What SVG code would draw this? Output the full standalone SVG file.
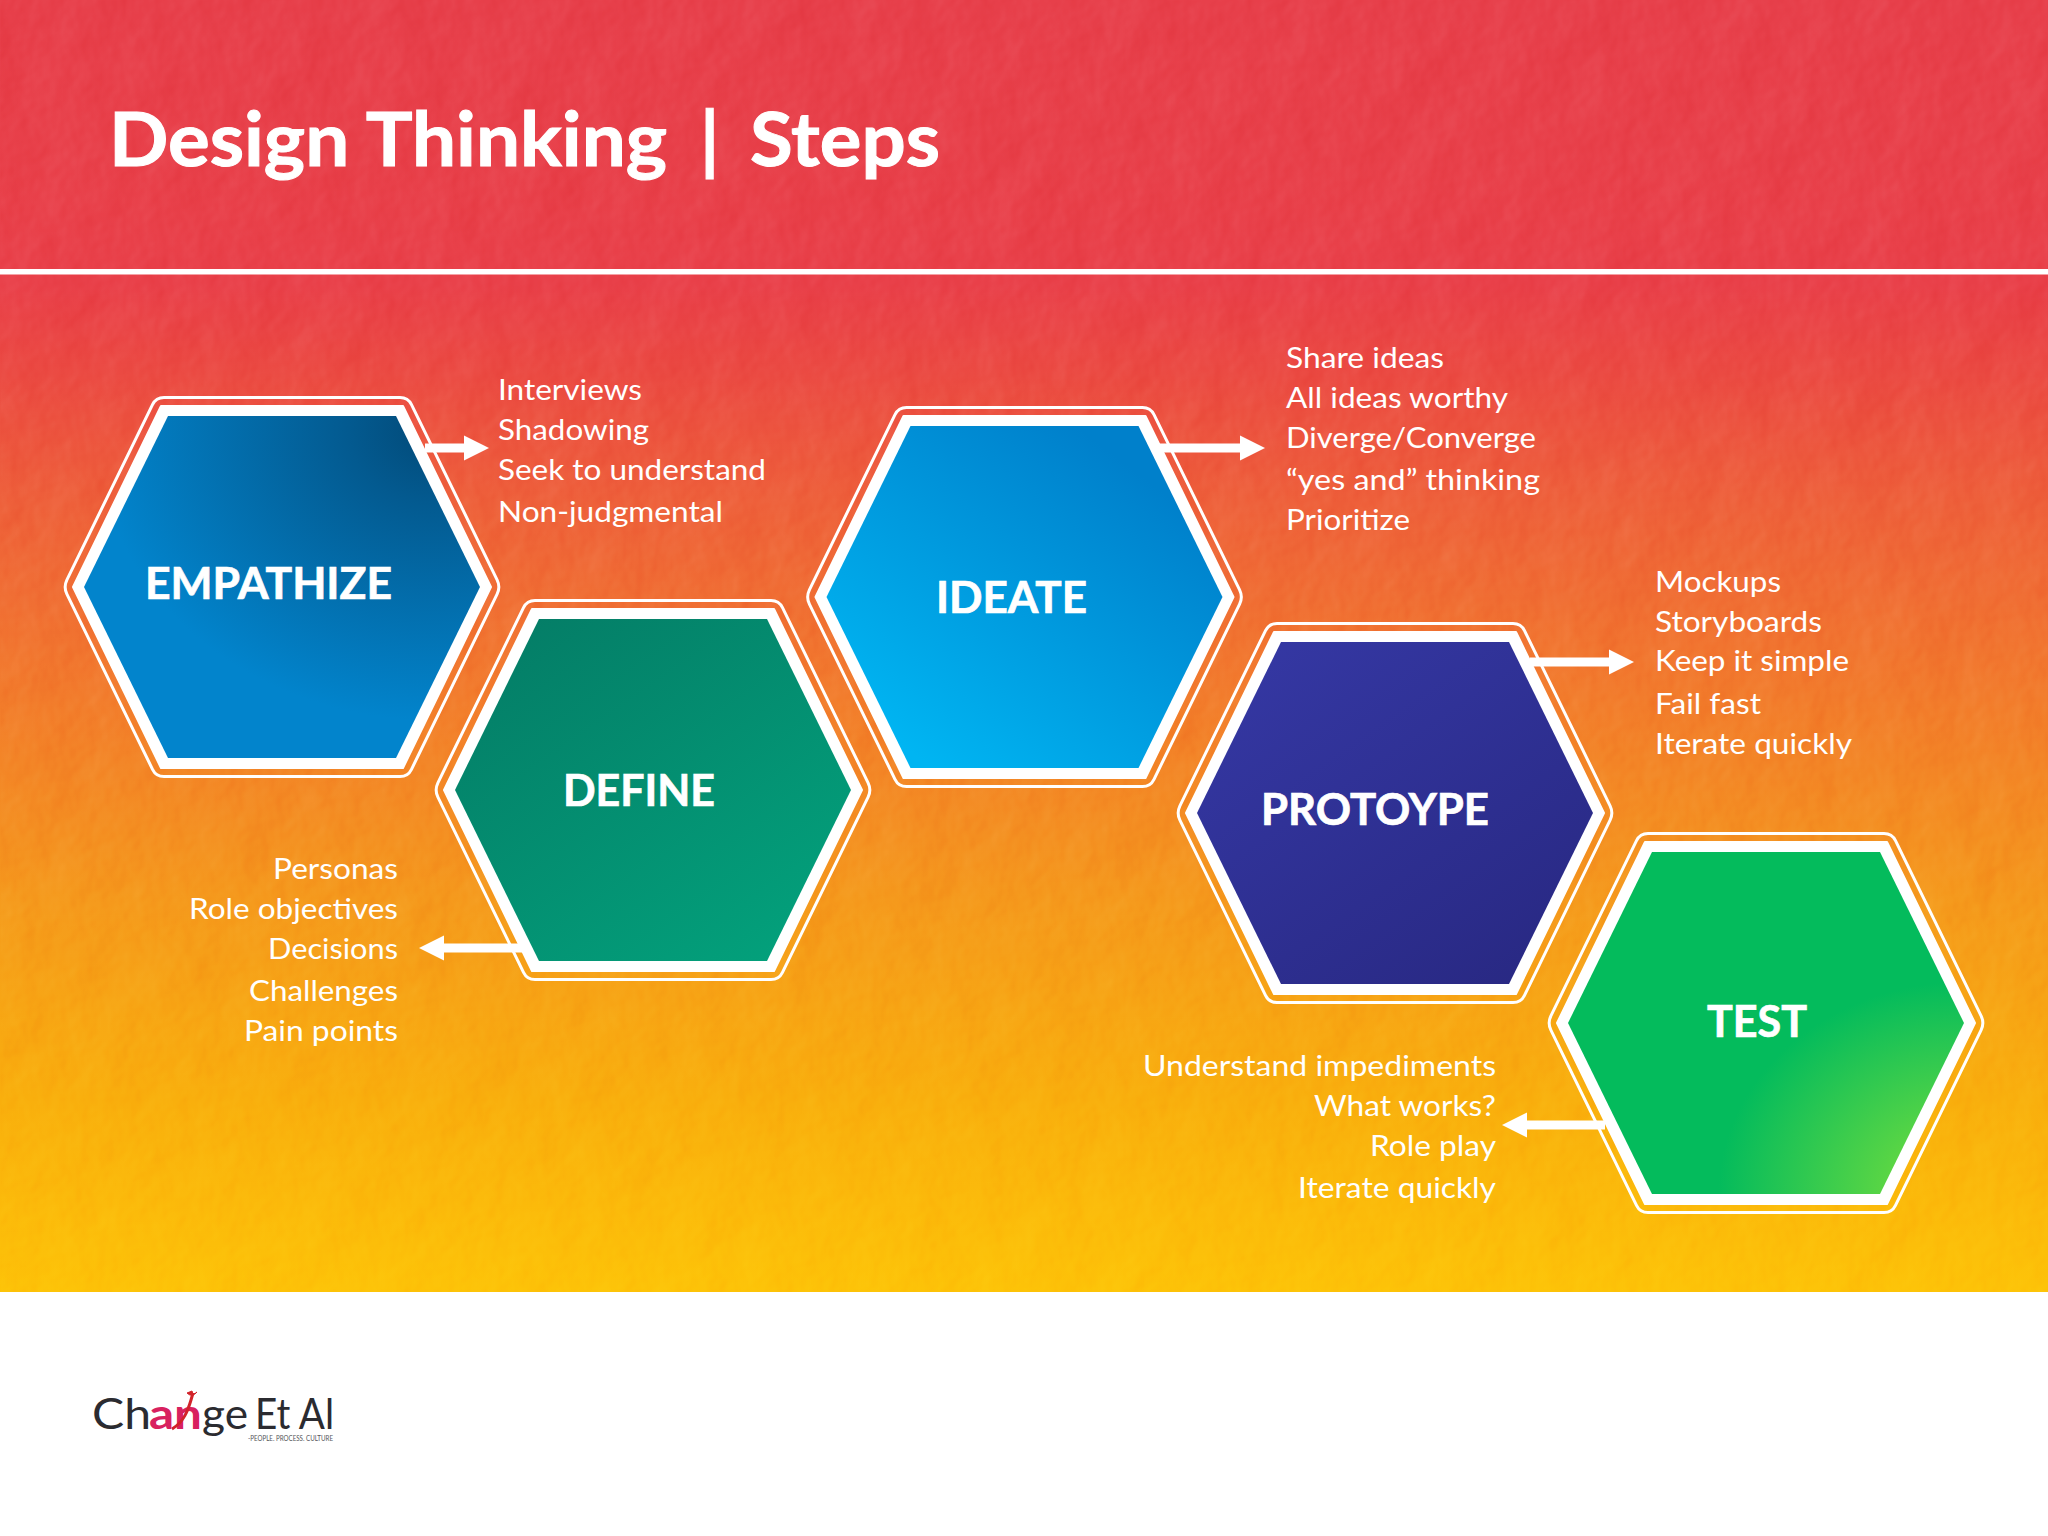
<svg xmlns="http://www.w3.org/2000/svg" width="2048" height="1536" viewBox="0 0 2048 1536">
<defs>
<style>
text{font-family:"Lato","Liberation Sans",sans-serif;fill:#fff}
.t{font-size:74px;font-weight:700;stroke:#fff;stroke-width:1}
.l{font-size:44px;font-weight:700;stroke:#fff;stroke-width:.7}
.b{font-size:28px;font-weight:400}
.thin{fill:none;stroke:#fff;stroke-width:3}
.band{fill:#fff;stroke:#fff;stroke-width:2;stroke-linejoin:round}
.arrow{stroke:#fff;stroke-width:9;fill:none;marker-end:url(#head)}
.logo{font-size:42px;font-weight:400;fill:#2b2b30}
</style>
<linearGradient id="bg" gradientUnits="userSpaceOnUse" x1="0" y1="0" x2="0" y2="1292">
<stop offset="0" stop-color="#E7404B"/><stop offset=".22" stop-color="#E9414A"/><stop offset=".29" stop-color="#EB4B43"/><stop offset=".39" stop-color="#EE613B"/><stop offset=".54" stop-color="#F27C2C"/><stop offset=".7" stop-color="#F59A1C"/><stop offset=".85" stop-color="#F9AF0D"/><stop offset="1" stop-color="#FDC308"/>
</linearGradient>
<filter id="paper" x="0" y="0" width="100%" height="100%" color-interpolation-filters="sRGB">
<feTurbulence type="fractalNoise" baseFrequency="0.016 0.015" numOctaves="4" seed="11" result="n"/>
<feDiffuseLighting in="n" surfaceScale="1.3" diffuseConstant="1" lighting-color="#fff" result="lit"><feDistantLight azimuth="200" elevation="30"/></feDiffuseLighting>
<feBlend in="lit" in2="SourceGraphic" mode="soft-light" result="b"/>
<feComposite in="b" in2="SourceGraphic" operator="in"/>
</filter>
<marker id="head" markerUnits="userSpaceOnUse" markerWidth="26" markerHeight="26" refX="0" refY="13" orient="auto"><path d="M0,0.5 L25,13 L0,25.5 Z" fill="#fff"/></marker>
<radialGradient id="g1" cx=".88" cy=".04" r=".85"><stop offset="0" stop-color="#024A78"/><stop offset=".25" stop-color="#035A90"/><stop offset="1" stop-color="#0284CC"/></radialGradient>
<linearGradient id="g2" x1=".1" y1="0" x2=".9" y2="1"><stop offset="0" stop-color="#047C66"/><stop offset="1" stop-color="#03A27C"/></linearGradient>
<linearGradient id="g3" x1=".15" y1=".9" x2=".8" y2=".15"><stop offset="0" stop-color="#00B5F2"/><stop offset="1" stop-color="#0080CB"/></linearGradient>
<linearGradient id="g4" x1=".1" y1="0" x2=".9" y2="1"><stop offset="0" stop-color="#3538A4"/><stop offset="1" stop-color="#282882"/></linearGradient>
<radialGradient id="g5" cx="1" cy="1" r=".62"><stop offset="0" stop-color="#78E03E"/><stop offset=".25" stop-color="#62D842"/><stop offset="1" stop-color="#04BB5C"/></radialGradient>
<g id="frame">
<path class="thin" d="M-118,-189.5 H118 Q126,-189.5 129.5,-182.3 L215.1,-7.2 Q218.6,0 215.1,7.2 L129.5,182.3 Q126,189.5 118,189.5 H-118 Q-126,189.5 -129.5,182.3 L-215.1,7.2 Q-218.6,0 -215.1,-7.2 L-129.5,-182.3 Q-126,-189.5 -118,-189.5 Z"/>
<polygon class="band" points="-209,0 -121,-181 121,-181 209,0 121,181 -121,181"/>
</g>
<polygon id="inner" points="-198,0 -114,-171 114,-171 198,0 114,171 -114,171"/>
</defs>

<g id="background">
<rect x="0" y="0" width="2048" height="1536" fill="#fff"/>
<rect x="0" y="0" width="2048" height="1292" fill="url(#bg)" filter="url(#paper)"/>
<rect x="0" y="269" width="2048" height="5.5" fill="#fff"/>
</g>

<text id="title" class="t" y="166"><tspan x="109" textLength="558" lengthAdjust="spacingAndGlyphs">Design Thinking</tspan> <tspan x="700">|</tspan> <tspan x="750" textLength="190" lengthAdjust="spacingAndGlyphs">Steps</tspan></text>

<g id="connectors">
<line class="arrow" x1="425" y1="448" x2="464" y2="448"/>
<line class="arrow" x1="525" y1="948" x2="444" y2="948"/>
<line class="arrow" x1="1157" y1="448" x2="1240" y2="448"/>
<line class="arrow" x1="1530" y1="662" x2="1609" y2="662"/>
<line class="arrow" x1="1605" y1="1125" x2="1527" y2="1125"/>
</g>

<g id="empathize">
<g transform="translate(282,587)"><use href="#frame"/><use href="#inner" fill="url(#g1)"/></g>
<text class="l" x="145" y="599" textLength="247" lengthAdjust="spacingAndGlyphs">EMPATHIZE</text>
<text class="b" x="498" y="400" textLength="144" lengthAdjust="spacingAndGlyphs">Interviews</text>
<text class="b" x="498" y="440" textLength="151" lengthAdjust="spacingAndGlyphs">Shadowing</text>
<text class="b" x="498" y="480" textLength="268" lengthAdjust="spacingAndGlyphs">Seek to understand</text>
<text class="b" x="498" y="522" textLength="225" lengthAdjust="spacingAndGlyphs">Non-judgmental</text>
</g>

<g id="define">
<g transform="translate(653,790)"><use href="#frame"/><use href="#inner" fill="url(#g2)"/></g>
<text class="l" x="563" y="806" textLength="152" lengthAdjust="spacingAndGlyphs">DEFINE</text>
<text class="b" x="273" y="879" textLength="125" lengthAdjust="spacingAndGlyphs">Personas</text>
<text class="b" x="189" y="919" textLength="209" lengthAdjust="spacingAndGlyphs">Role objectives</text>
<text class="b" x="268" y="959" textLength="130" lengthAdjust="spacingAndGlyphs">Decisions</text>
<text class="b" x="249" y="1001" textLength="149" lengthAdjust="spacingAndGlyphs">Challenges</text>
<text class="b" x="244" y="1041" textLength="154" lengthAdjust="spacingAndGlyphs">Pain points</text>
</g>

<g id="ideate">
<g transform="translate(1024.5,597)"><use href="#frame"/><use href="#inner" fill="url(#g3)"/></g>
<text class="l" x="936" y="613" textLength="151" lengthAdjust="spacingAndGlyphs">IDEATE</text>
<text class="b" x="1286" y="368" textLength="158" lengthAdjust="spacingAndGlyphs">Share ideas</text>
<text class="b" x="1286" y="408" textLength="222" lengthAdjust="spacingAndGlyphs">All ideas worthy</text>
<text class="b" x="1286" y="448" textLength="250" lengthAdjust="spacingAndGlyphs">Diverge/Converge</text>
<text class="b" x="1286" y="490" textLength="254" lengthAdjust="spacingAndGlyphs">“yes and” thinking</text>
<text class="b" x="1286" y="530" textLength="124" lengthAdjust="spacingAndGlyphs">Prioritize</text>
</g>

<g id="prototype">
<g transform="translate(1395,813)"><use href="#frame"/><use href="#inner" fill="url(#g4)"/></g>
<text class="l" x="1261" y="825" textLength="228" lengthAdjust="spacingAndGlyphs">PROTOYPE</text>
<text class="b" x="1655" y="592" textLength="126" lengthAdjust="spacingAndGlyphs">Mockups</text>
<text class="b" x="1655" y="632" textLength="167" lengthAdjust="spacingAndGlyphs">Storyboards</text>
<text class="b" x="1655" y="671" textLength="194" lengthAdjust="spacingAndGlyphs">Keep it simple</text>
<text class="b" x="1655" y="714" textLength="106" lengthAdjust="spacingAndGlyphs">Fail fast</text>
<text class="b" x="1655" y="754" textLength="197" lengthAdjust="spacingAndGlyphs">Iterate quickly</text>
</g>

<g id="test">
<g transform="translate(1766,1023)"><use href="#frame"/><use href="#inner" fill="url(#g5)"/></g>
<text class="l" x="1707" y="1037" textLength="100" lengthAdjust="spacingAndGlyphs">TEST</text>
<text class="b" x="1143" y="1076" textLength="353" lengthAdjust="spacingAndGlyphs">Understand impediments</text>
<text class="b" x="1314" y="1116" textLength="182" lengthAdjust="spacingAndGlyphs">What works?</text>
<text class="b" x="1370" y="1156" textLength="126" lengthAdjust="spacingAndGlyphs">Role play</text>
<text class="b" x="1298" y="1198" textLength="198" lengthAdjust="spacingAndGlyphs">Iterate quickly</text>
</g>

<g id="logo">
<text class="logo" x="92" y="1429" textLength="59" lengthAdjust="spacingAndGlyphs">Ch</text>
<text class="logo" x="149" y="1429" textLength="53" lengthAdjust="spacingAndGlyphs" style="fill:#D8215F;font-weight:700">an</text>
<text class="logo" x="202" y="1429" textLength="46" lengthAdjust="spacingAndGlyphs">ge</text>
<text class="logo" x="255" y="1429" textLength="79" lengthAdjust="spacingAndGlyphs">Et Al</text>
<path d="M172,1429 C184,1422 188,1410 191,1400 L193,1393" fill="none" stroke="#D2232A" stroke-width="3"/>
<path d="M187,1393 Q192,1398 197,1392 Q193,1396 192,1391 Z" fill="#D2232A" stroke="#D2232A"/>
<text x="248" y="1441" textLength="85" lengthAdjust="spacingAndGlyphs" style="font-size:7px;fill:#55555a">-PEOPLE. PROCESS. CULTURE</text>
</g>
</svg>
